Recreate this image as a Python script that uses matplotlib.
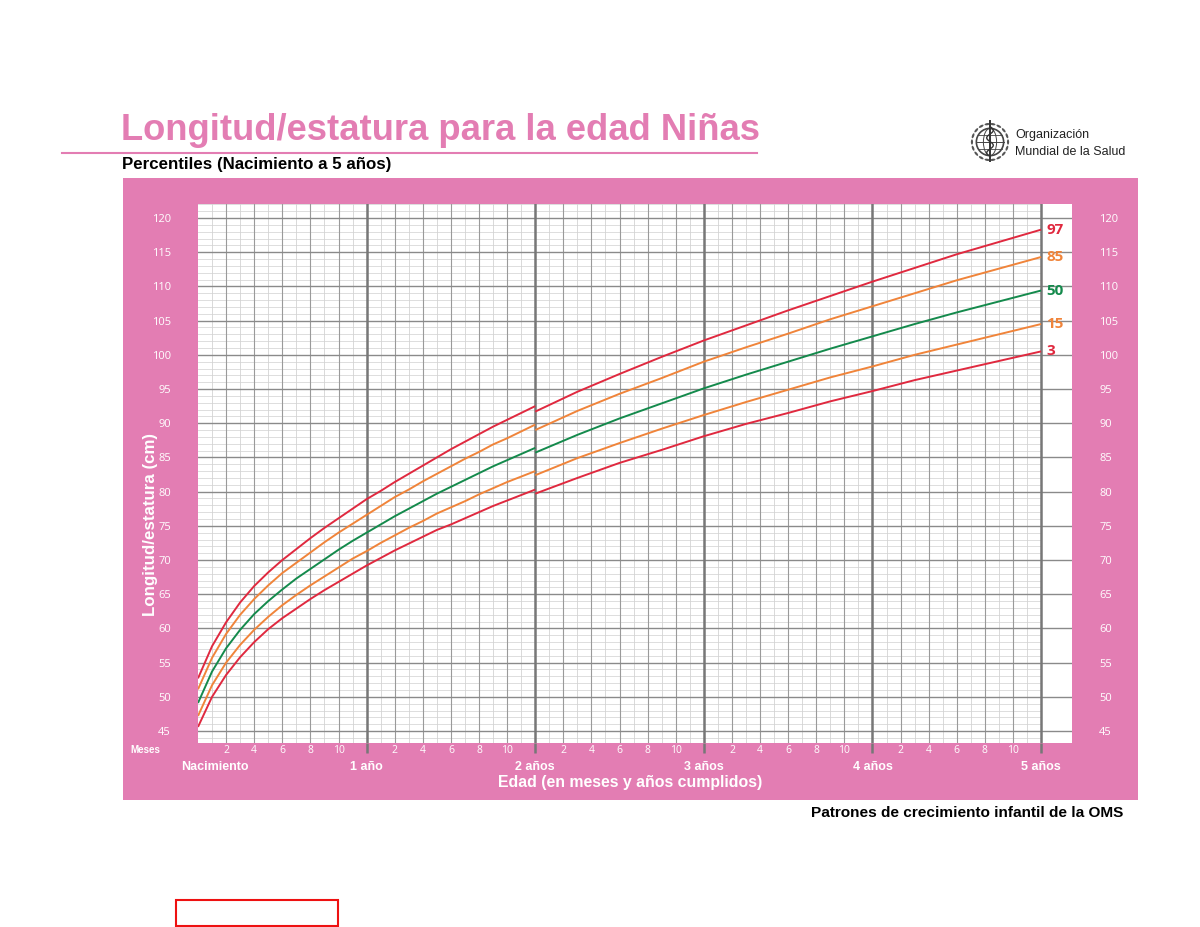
import matplotlib
matplotlib.use("Agg")
import matplotlib.pyplot as plt
from matplotlib.patches import Rectangle, Circle, Ellipse
import numpy as np

plt.rcParams['font.family'] = ['Liberation Sans', 'DejaVu Sans']

# ---------------- data ----------------
months_len = [0, 1, 2, 3, 4, 5, 6, 7, 8, 9, 10, 11, 12, 13, 14, 15, 16, 17, 18, 19, 20, 21, 22, 23, 24]
p3_len  = [45.6, 50.0, 53.2, 55.8, 58.0, 59.9, 61.5, 62.9, 64.3, 65.6, 66.8, 68.0, 69.2,
           70.3, 71.4, 72.4, 73.4, 74.4, 75.2, 76.1, 77.0, 77.9, 78.7, 79.5, 80.3]
p15_len = [47.2, 51.7, 55.0, 57.6, 59.8, 61.7, 63.4, 64.9, 66.3, 67.6, 68.9, 70.2, 71.3,
           72.5, 73.6, 74.7, 75.7, 76.8, 77.7, 78.6, 79.6, 80.5, 81.4, 82.2, 83.0]
p50_len = [49.1, 53.7, 57.1, 59.8, 62.1, 64.0, 65.7, 67.3, 68.7, 70.1, 71.5, 72.8, 74.0,
           75.2, 76.4, 77.5, 78.6, 79.7, 80.7, 81.7, 82.7, 83.7, 84.6, 85.5, 86.4]
p85_len = [51.1, 55.7, 59.2, 62.0, 64.3, 66.3, 68.1, 69.6, 71.1, 72.6, 74.0, 75.3, 76.6,
           77.9, 79.2, 80.3, 81.5, 82.6, 83.7, 84.8, 85.8, 86.9, 87.8, 88.8, 89.8]
p97_len = [52.7, 57.4, 60.9, 63.8, 66.2, 68.2, 70.0, 71.6, 73.2, 74.7, 76.1, 77.5, 78.9,
           80.1, 81.4, 82.6, 83.8, 85.0, 86.2, 87.3, 88.4, 89.5, 90.5, 91.5, 92.5]

months_ht = [24, 27, 30, 33, 36, 39, 42, 45, 48, 51, 54, 57, 60]
p3_ht  = [79.7, 82.0, 84.2, 86.1, 88.1, 89.9, 91.5, 93.2, 94.7, 96.3, 97.7, 99.1, 100.5]
p15_ht = [82.4, 84.9, 87.1, 89.2, 91.2, 93.1, 94.9, 96.7, 98.3, 100.0, 101.5, 103.0, 104.5]
p50_ht = [85.7, 88.3, 90.7, 92.9, 95.1, 97.1, 99.0, 100.9, 102.7, 104.5, 106.2, 107.8, 109.4]
p85_ht = [89.0, 91.8, 94.3, 96.6, 99.0, 101.1, 103.1, 105.2, 107.1, 109.0, 110.9, 112.6, 114.3]
p97_ht = [91.7, 94.6, 97.2, 99.7, 102.1, 104.3, 106.5, 108.6, 110.7, 112.7, 114.7, 116.5, 118.3]

percentile_labels = ["97", "85", "50", "15", "3"]
y_ticks = [45, 50, 55, 60, 65, 70, 75, 80, 85, 90, 95, 100, 105, 110, 115, 120]
month_tick_labels = ["2", "4", "6", "8", "10"]
year_labels = ["Nacimiento", "1 año", "2 años", "3 años", "4 años", "5 años"]

PINK = "#e37db3"
RED = "#e0293f"
ORANGE = "#f0843a"
GREEN = "#148a4c"

W, H = 1200, 927
fig = plt.figure(figsize=(12, 9.27), dpi=100)
fig.patch.set_facecolor("white")

def fx(px):
    return px / W

def fy(py):
    return 1 - py / H

# pink panel
fig.patches.append(Rectangle((fx(123), fy(800)), fx(1138) - fx(123), fy(178) - fy(800),
                             transform=fig.transFigure, facecolor=PINK, edgecolor="none", zorder=-5))

# axes
ax = fig.add_axes([fx(198), fy(743), fx(1072) - fx(198), fy(204) - fy(743)])
ax.set_zorder(1)
ax.set_facecolor("white")
ax.set_xlim(0, 62.2)
ax.set_ylim(43.25, 122.05)

# minor grid (1 cm / 1 month) within 0..60
for v in np.arange(44, 123, 1):
    if v % 5 != 0:
        ax.plot([0, 60], [v, v], color="#d8d8d8", lw=0.6, zorder=1)
for m in range(0, 61):
    if m % 12 == 0:
        continue
    col = "#9a9a9a" if m % 2 == 0 else "#d3d3d3"
    ax.plot([m, m], [43.25, 122.05], color=col, lw=0.8 if m % 2 == 0 else 0.6, zorder=1)
# major horizontal every 5 cm
for v in y_ticks:
    ax.plot([0, 62.2], [v, v], color="#8a8a8a", lw=1.0, zorder=2)
# year lines
for m in [12, 24, 36, 48, 60]:
    ax.plot([m, m], [43.25, 122.05], color="#777777", lw=1.8, zorder=2)

for s in ax.spines.values():
    s.set_visible(False)

# curves
series = [(p97_len, p97_ht, RED), (p85_len, p85_ht, ORANGE), (p50_len, p50_ht, GREEN),
          (p15_len, p15_ht, ORANGE), (p3_len, p3_ht, RED)]
for (yl, yh, c), lab in zip(series, percentile_labels):
    ax.plot(months_len, yl, color=c, lw=1.4, zorder=4, solid_capstyle="butt", solid_joinstyle="round")
    ax.plot(months_ht, yh, color=c, lw=1.4, zorder=4, solid_capstyle="butt", solid_joinstyle="round")
    ax.text(60.35, yh[-1], lab, color=c, fontsize=11, fontweight="bold",
            family=["Open Sans", "DejaVu Sans"], ha="left", va="center", zorder=5)

# ticks
ax.set_yticks(y_ticks)
ax.tick_params(axis="y", which="both", left=False, right=False, labelleft=True, labelright=True,
               labelcolor="white", labelsize=8, pad=16)
for t in ax.get_yticklabels():
    t.set_family(["Open Sans", "DejaVu Sans"])
ax.set_xticks([12, 24, 36, 48, 60])
ax.tick_params(axis="x", direction="out", length=7, width=1.8, color="#777777", labelbottom=False)

# month labels
for yr in range(5):
    for i, lab in enumerate(month_tick_labels):
        m = yr * 12 + (i + 1) * 2
        ax.text(m, 42.2, lab, color="white", fontsize=7.5, ha="center", va="center",
                family=["Open Sans", "DejaVu Sans"], clip_on=False)
fig.text(fx(145), fy(750), "Meses", color="white", fontsize=7,
         fontweight="bold", ha="center", va="center")
year_x = [215, 366, 535, 704, 873, 1041]
for xp, lab in zip(year_x, year_labels):
    fig.text(fx(xp), fy(767), lab, color="white", fontsize=9,
             fontweight="bold", ha="center", va="center")
fig.text(fx(630), fy(783), "Edad (en meses y años cumplidos)", color="white", fontsize=11.4,
         fontweight="bold", ha="center", va="center")
fig.text(fx(150), fy(524), "Longitud/estatura (cm)", color="white", fontsize=12.2,
         fontweight="bold", ha="center", va="center", rotation=90)

# title
fig.text(fx(121), fy(130), "Longitud/estatura para la edad Niñas", color=PINK, fontsize=26.2,
         fontweight="bold", ha="left", va="center")
fig.add_artist(plt.Line2D([fx(62), fx(757)], [fy(153), fy(153)], color=PINK, lw=1.5,
                          transform=fig.transFigure))
fig.text(fx(122), fy(165), "Percentiles (Nacimiento a 5 años)", color="black", fontsize=12.2,
         fontweight="bold", ha="left", va="center")
fig.text(fx(1123), fy(813), "Patrones de crecimiento infantil de la OMS", color="black",
         fontsize=11.1, fontweight="bold", ha="right", va="center")

# WHO emblem and name
lax = fig.add_axes([fx(966), fy(164), fx(1014) - fx(966), fy(120) - fy(164)])
lax.set_xlim(-1, 1)
lax.set_ylim(-1, 1)
lax.set_aspect("equal")
lax.axis("off")
lax.add_patch(Circle((0, 0), 0.62, fill=False, ec="#444444", lw=1.2))
lax.add_patch(Ellipse((0, 0), 0.6, 1.24, fill=False, ec="#444444", lw=0.7))
lax.plot([-0.62, 0.62], [0, 0], color="#444444", lw=0.7)
lax.plot([-0.55, 0.55], [0.3, 0.3], color="#444444", lw=0.6)
lax.plot([-0.55, 0.55], [-0.3, -0.3], color="#444444", lw=0.6)
lax.plot([0, 0], [-0.85, 0.95], color="#333333", lw=1.4)
th = np.linspace(0, 1, 40)
lax.plot(0.15 * np.sin(th * 12), 0.7 - 1.3 * th, color="#333333", lw=1.0)
ang = np.linspace(np.pi * 0.55, np.pi * 1.45, 9)
for a in ang:
    for sgn in (1, -1):
        cx, cy = sgn * 0.82 * np.cos(a), 0.82 * np.sin(a)
        lax.add_patch(Ellipse((cx, cy), 0.24, 0.1, angle=np.degrees(np.arctan2(cy, cx)) + 90,
                              fc="#555555", ec="none"))
fig.text(fx(1015), fy(135), "Organización", color="#222222", fontsize=9, ha="left", va="center")
fig.text(fx(1015), fy(152), "Mundial de la Salud", color="#222222", fontsize=9, ha="left", va="center")

# red outlined box
fig.patches.append(Rectangle((fx(176), fy(926)), fx(338) - fx(176), fy(900) - fy(926),
                             transform=fig.transFigure, facecolor="none", edgecolor="#ee1111", lw=1.5))

fig.savefig("out.png", dpi=100)
